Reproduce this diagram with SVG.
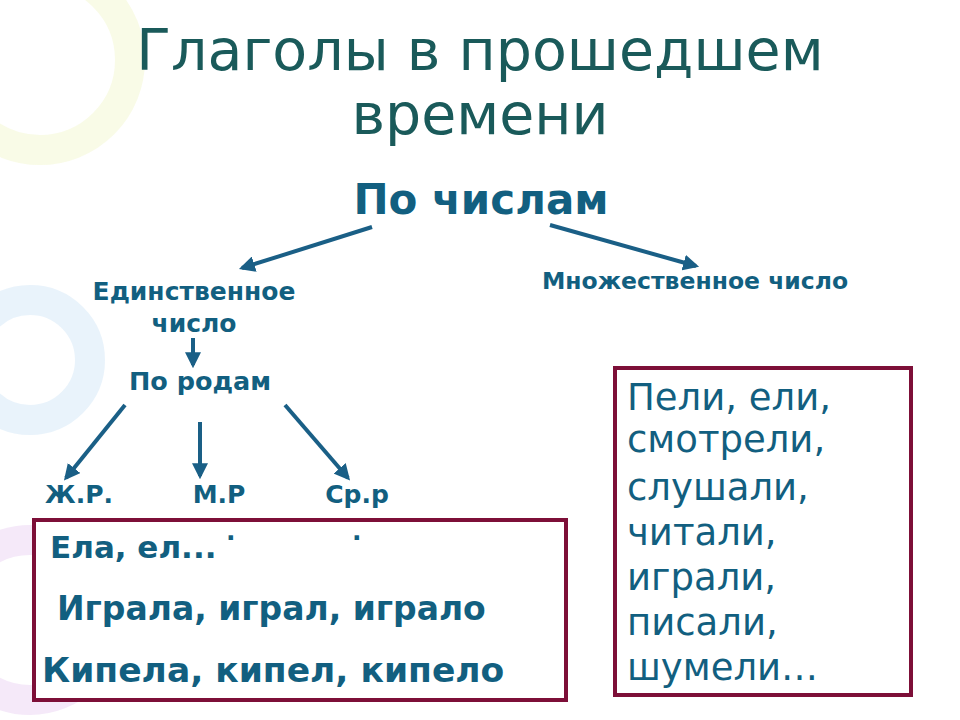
<svg xmlns="http://www.w3.org/2000/svg" width="960" height="720" viewBox="0 0 960 720">
<defs>
<style>
.t{font-family:"DejaVu Sans","Liberation Sans",sans-serif;fill:#125f80}
.b{font-weight:bold}
.box{fill:#fff;stroke:#7d0f38;stroke-width:4}
.c line{stroke:#1a5f86;stroke-width:4}
</style>
<marker id="a" viewBox="0 0 10 10" refX="8" refY="5" markerWidth="4" markerHeight="4" orient="auto"><path d="M0,0L10,5L0,10z" fill="#1a5f86"/></marker>
</defs>
<rect width="960" height="720" fill="#fff"/>
<g opacity="0.25" fill="none" stroke-width="30">
<circle cx="40" cy="60" r="90" stroke="#e8f0a0"/>
<circle cx="30" cy="360" r="60" stroke="#a8d0f0"/>
<circle cx="30" cy="620" r="80" stroke="#d8a8e8"/>
</g>
<g id="title"><text class="t" x="480" y="70" font-size="57" text-anchor="middle" style="fill:#1a5a5a">Глаголы в прошедшем</text>
<text class="t" x="480" y="134" font-size="57" text-anchor="middle" style="fill:#1a5a5a">времени</text></g>
<g id="n-chisla"><text class="t b" x="481" y="214" font-size="42" text-anchor="middle">По числам</text></g>
<g id="n-ed"><text class="t b" x="194" y="300" font-size="25" text-anchor="middle">Единственное</text><text class="t b" x="194" y="332" font-size="25" text-anchor="middle">число</text></g>
<g id="n-mn"><text class="t b" x="695" y="289" font-size="23.5" text-anchor="middle">Множественное число</text></g>
<g id="n-rody"><text class="t b" x="200" y="390" font-size="25.5" text-anchor="middle">По родам</text></g>
<g id="n-zh"><text class="t b" x="79" y="503" font-size="25" text-anchor="middle">Ж.Р.</text></g>
<g id="box1"><rect class="box" x="34" y="520" width="532" height="180"/>
<text class="t b" x="50" y="558" font-size="31">Ела, ел...</text>
<text class="t b" x="57" y="620" font-size="33">Играла,  играл, играло</text>
<text class="t b" x="42" y="682" font-size="34.5">Кипела, кипел, кипело</text></g>
<g id="n-m"><text class="t b" x="219" y="503" font-size="25" text-anchor="middle">М.Р</text><text class="t b" x="226" y="540" font-size="25">.</text></g>
<g id="n-sr"><text class="t b" x="357" y="503" font-size="25" text-anchor="middle">Ср.р</text><text class="t b" x="352" y="540" font-size="25">.</text></g>
<g id="box2"><rect class="box" x="615" y="368" width="296" height="327"/>
<g class="t" font-size="37"><text x="627" y="410">Пели, ели,</text><text x="627" y="452">смотрели,</text><text x="627" y="500">слушали,</text><text x="627" y="545">читали,</text><text x="627" y="590">играли,</text><text x="627" y="635">писали,</text><text x="627" y="680">шумели…</text></g></g>
<g class="c" id="connectors">
<line x1="372" y1="227" x2="242" y2="268" marker-end="url(#a)"/>
<line x1="550" y1="225" x2="696" y2="266" marker-end="url(#a)"/>
<line x1="193" y1="338" x2="193" y2="365" marker-end="url(#a)"/>
<line x1="125" y1="405" x2="66" y2="478" marker-end="url(#a)"/>
<line x1="200" y1="422" x2="200" y2="476" marker-end="url(#a)"/>
<line x1="285" y1="405" x2="348" y2="478" marker-end="url(#a)"/>
</g>
</svg>
